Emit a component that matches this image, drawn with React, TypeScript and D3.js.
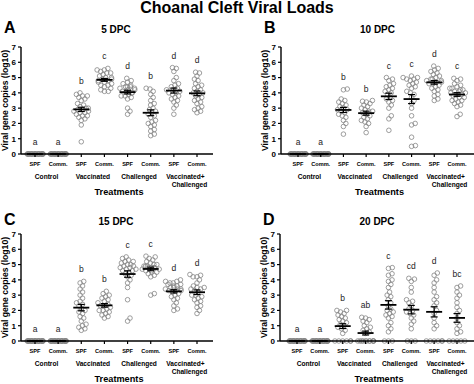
import React from 'react';
import * as d3 from 'd3';

const FONT = '"Liberation Sans", Arial, Helvetica, sans-serif';

// groups: Control SPF, Control Comm., Vaccinated SPF, Vaccinated Comm.,
// Challenged SPF, Challenged Comm., Vacc+Chall SPF, Vacc+Chall Comm.
const treatments = ['Control', 'Vaccinated', 'Challenged', 'Vaccinated+|Challenged'];
const sources = ['SPF', 'Comm.'];
const yTicks = [0, 1, 2, 3, 4, 5, 6, 7];

const zeros = [0, 0, 0, 0, 0, 0, 0, 0, 0, 0, 0, 0, 0, 0, 0, 0, 0, 0, 0, 0, 0, 0, 0, 0, 0, 0];

const dpc5: number[][] = [
  zeros,
  zeros,
  [4.0, 3.9, 3.8, 3.8, 3.7, 3.6, 3.5, 3.3, 3.2, 3.1, 3.0, 3.0, 2.9, 2.9, 2.8, 2.8, 2.7, 2.7, 2.6, 2.5, 2.5, 2.4, 2.3, 2.2, 1.9, 0.8],
  [5.6, 5.5, 5.5, 5.4, 5.3, 5.3, 5.2, 5.1, 5.0, 5.0, 4.9, 4.9, 4.8, 4.8, 4.7, 4.7, 4.6, 4.5, 4.5, 4.4, 4.3, 4.2, 4.1, 4.1],
  [4.95, 4.8, 4.7, 4.6, 4.5, 4.4, 4.4, 4.3, 4.2, 4.2, 4.1, 4.1, 4.0, 4.0, 3.9, 3.8, 3.7, 3.6, 4.4, 4.3, 3.8, 3.0, 2.8, 2.6],
  [4.3, 4.25, 4.1, 3.9, 3.7, 3.5, 3.3, 3.2, 3.0, 2.9, 2.8, 2.7, 2.6, 2.5, 2.4, 2.2, 2.1, 2.0, 1.9, 1.8, 1.6, 1.5, 1.3, 1.2],
  [5.65, 5.6, 5.4, 5.0, 4.8, 4.6, 4.5, 4.4, 4.3, 4.2, 4.2, 4.1, 4.0, 4.0, 3.9, 3.8, 3.7, 3.6, 3.5, 3.4, 3.2, 3.0, 2.6],
  [5.35, 5.3, 5.1, 4.9, 4.8, 4.6, 4.5, 4.4, 4.3, 4.2, 4.1, 4.0, 4.0, 3.9, 3.8, 3.7, 3.6, 3.5, 3.4, 3.3, 3.1, 3.0, 2.9, 2.8, 2.7],
];

const dpc10: number[][] = [
  zeros,
  zeros,
  [4.25, 4.2, 3.6, 3.5, 3.4, 3.3, 3.2, 3.1, 3.0, 2.9, 2.9, 2.8, 2.7, 2.6, 2.5, 2.4, 2.2, 2.0, 1.8, 1.3],
  [3.5, 3.45, 3.4, 3.3, 3.2, 3.1, 3.0, 2.9, 2.8, 2.8, 2.7, 2.6, 2.5, 2.4, 2.3, 2.2, 2.1, 2.0, 1.8, 1.4],
  [5.0, 4.9, 4.8, 4.6, 4.5, 4.4, 4.3, 4.2, 4.1, 4.0, 3.9, 3.7, 3.6, 3.5, 3.4, 3.2, 3.0, 2.5, 2.3, 1.55],
  [5.1, 5.0, 5.0, 4.9, 4.9, 4.8, 4.7, 4.6, 4.5, 4.4, 4.3, 4.1, 4.0, 3.9, 3.7, 3.5, 3.3, 3.0, 2.5, 2.0, 1.9, 1.1, 0.55, 0.5],
  [5.75, 5.6, 5.5, 5.4, 5.3, 5.2, 5.1, 5.0, 4.9, 4.9, 4.8, 4.8, 4.7, 4.7, 4.7, 4.6, 4.6, 4.5, 4.4, 4.3, 4.2, 4.1, 3.9, 3.8, 3.6, 3.5],
  [4.95, 4.9, 4.8, 4.6, 4.5, 4.4, 4.3, 4.3, 4.2, 4.2, 4.1, 4.1, 4.0, 4.0, 3.9, 3.9, 3.8, 3.7, 3.7, 3.6, 3.5, 3.5, 3.4, 3.3, 3.2, 3.1, 2.6, 2.45],
];

const dpc15: number[][] = [
  zeros,
  zeros,
  [3.9, 3.8, 3.6, 3.4, 3.2, 3.0, 2.8, 2.6, 2.5, 2.4, 2.3, 2.1, 2.0, 1.9, 1.8, 1.6, 1.5, 1.3, 1.1, 1.0, 0.9, 0.8, 0.7],
  [3.25, 3.1, 3.0, 2.9, 2.8, 2.7, 2.6, 2.5, 2.4, 2.3, 2.3, 2.2, 2.1, 2.0, 2.0, 1.9, 1.8, 1.7, 1.6, 1.5],
  [5.5, 5.4, 5.3, 5.2, 5.2, 5.1, 5.0, 5.0, 4.9, 4.9, 4.8, 4.8, 4.7, 4.7, 4.6, 4.6, 4.5, 4.4, 4.3, 4.2, 4.0, 3.8, 3.5, 2.7, 1.5, 1.3],
  [5.55, 5.5, 5.4, 5.3, 5.2, 5.1, 5.0, 5.0, 4.9, 4.9, 4.9, 4.8, 4.8, 4.8, 4.8, 4.7, 4.7, 4.6, 4.6, 4.5, 4.5, 4.4, 4.3, 4.2, 3.1, 3.0],
  [4.0, 3.9, 3.9, 3.8, 3.8, 3.7, 3.7, 3.6, 3.6, 3.5, 3.5, 3.4, 3.4, 3.4, 3.3, 3.3, 3.3, 3.2, 3.1, 3.0, 2.9, 2.8, 2.7, 2.5, 2.3, 2.1, 2.0],
  [4.35, 4.3, 4.2, 4.2, 4.0, 3.8, 3.6, 3.5, 3.5, 3.4, 3.4, 3.3, 3.2, 3.0, 3.0, 2.9, 2.8, 2.7, 2.6, 2.5, 2.3, 2.2, 2.0, 1.8],
];

const dpc20: number[][] = [
  zeros,
  zeros,
  [2.0, 2.0, 1.9, 1.8, 1.7, 1.6, 1.5, 1.4, 1.3, 1.2, 1.1, 1.0, 0.9, 0.8, 0.7, 0.5, 0, 0, 0, 0, 0, 0],
  [1.55, 1.5, 1.4, 1.3, 1.2, 1.0, 0.9, 0.8, 0.7, 0.6, 0.5, 0, 0, 0, 0, 0, 0, 0, 0, 0, 0, 0],
  [4.8, 4.75, 4.4, 4.3, 4.0, 3.9, 3.7, 3.5, 3.2, 3.0, 2.9, 2.7, 2.5, 2.3, 2.1, 2.0, 1.9, 1.8, 1.7, 1.6, 1.5, 1.2, 1.0, 0.8, 0.6, 0, 0, 0],
  [4.1, 4.05, 3.9, 3.5, 3.2, 2.7, 2.6, 2.5, 2.3, 2.1, 2.0, 1.9, 1.8, 1.7, 1.5, 1.3, 1.1, 0.8, 0, 0, 0],
  [4.45, 4.3, 4.0, 3.8, 3.5, 3.2, 2.9, 2.7, 2.5, 2.3, 2.0, 1.8, 1.5, 1.2, 1.0, 0.8, 0, 0, 0, 0, 0, 0],
  [3.6, 3.5, 3.2, 3.0, 2.8, 2.5, 2.2, 2.0, 1.8, 1.5, 1.2, 1.0, 0.8, 0.6, 0.5, 0, 0, 0, 0, 0],
];

const letters5 = ['a', 'a', 'b', 'c', 'd', 'b', 'd', 'd'];
const letters10 = ['a', 'a', 'b', 'b', 'c', 'c', 'd', 'c'];
const letters15 = ['a', 'a', 'b', 'b', 'c', 'c', 'd', 'd'];
const letters20 = ['a', 'a', 'b', 'ab', 'c', 'cd', 'd', 'bc'];

const panels = [
  { tag: 'A', title: '5 DPC', values: dpc5, letters: letters5, ax: 21, x0: 35, x1: 197, xEnd: 213, y0: 154, tagY: 33 },
  { tag: 'B', title: '10 DPC', values: dpc10, letters: letters10, ax: 281, x0: 298, x1: 457, xEnd: 474, y0: 154, tagY: 33 },
  { tag: 'C', title: '15 DPC', values: dpc15, letters: letters15, ax: 21, x0: 35, x1: 197, xEnd: 213, y0: 341, tagY: 225 },
  { tag: 'D', title: '20 DPC', values: dpc20, letters: letters20, ax: 280, x0: 297, x1: 457, xEnd: 474, y0: 341, tagY: 225 },
];

// simple beeswarm: horizontal offsets so circles don't stack on each other
function swarm(vals: number[], y: (v: number) => number, r: number, maxW: number) {
  const order = vals.map((_, i) => i).sort((a, b) => vals[a] - vals[b]);
  const placed: { x: number; y: number }[] = [];
  const out: number[] = vals.map(() => 0);
  const d = 1.7 * r;
  order.forEach((i, k) => {
    const py = y(vals[i]);
    const near = placed.filter((p) => Math.abs(p.y - py) < d);
    const cands = [0];
    near.forEach((p) => {
      const dx = Math.sqrt(d * d - (p.y - py) ** 2);
      cands.push(p.x + dx, p.x - dx);
    });
    cands.sort((a, b) => Math.abs(a) - Math.abs(b));
    let x = cands.find((c) => near.every((p) => (p.x - c) ** 2 + (p.y - py) ** 2 >= d * d - 0.01));
    if (x === undefined || Math.abs(x) > maxW) x = ((k * 3.3) % (2 * maxW)) - maxW;
    out[i] = x;
    placed.push({ x, y: py });
  });
  return out;
}

type PanelDef = (typeof panels)[number];

const Panel: React.FC<{ p: PanelDef }> = ({ p }) => {
  const y = d3.scaleLinear().domain([0, 7]).range([p.y0, p.y0 - 107]);
  const x = d3.scalePoint<number>().domain(d3.range(8)).range([p.x0, p.x1]);
  const midX = (p.ax + p.xEnd) / 2 + 2;
  const yMid = (y(0) + y(7)) / 2;

  return (
    <g fontFamily={FONT}>
      <text x={p.ax - 17} y={p.tagY} fontSize={16} fontWeight="bold">{p.tag}</text>
      <text x={(p.x0 + p.x1) / 2} y={p.tagY} fontSize={10} fontWeight="bold" textAnchor="middle">{p.title}</text>
      <text transform={`translate(${p.ax - 13},${yMid}) rotate(-90)`} fontSize={8.6} fontWeight="bold" textAnchor="middle">
        Viral gene copies (log10)
      </text>

      {/* y axis */}
      <line x1={p.ax} x2={p.ax} y1={y(0)} y2={y(7)} stroke="#000" strokeWidth={1.4} />
      {yTicks.map((t) => (
        <g key={t}>
          <line x1={p.ax - 3} x2={p.ax} y1={y(t)} y2={y(t)} stroke="#000" strokeWidth={1.2} />
          <text x={p.ax - 5} y={y(t)} dy="0.35em" fontSize={8} fontWeight="bold" textAnchor="end">{t}</text>
        </g>
      ))}

      {/* data */}
      {p.values.map((vals, gi) => {
        const cx = x(gi) as number;
        const offs = swarm(vals, y, 2.3, 8.5);
        const m = d3.mean(vals) ?? 0;
        const sem = (d3.deviation(vals) ?? 0) / Math.sqrt(vals.length);
        const top = d3.max(vals) ?? 0;
        return (
          <g key={gi}>
            {vals.map((v, i) => (
              <circle key={i} cx={cx + offs[i]} cy={y(v)} r={2.3} fill="none" stroke="#858585" strokeWidth={0.8} />
            ))}
            <line x1={cx - 8} x2={cx + 8} y1={y(m)} y2={y(m)} stroke="#000" strokeWidth={1.8} />
            <line x1={cx} x2={cx} y1={y(m - sem)} y2={y(m + sem)} stroke="#000" strokeWidth={1.2} />
            <line x1={cx - 3.5} x2={cx + 3.5} y1={y(m + sem)} y2={y(m + sem)} stroke="#000" strokeWidth={1.2} />
            <line x1={cx - 3.5} x2={cx + 3.5} y1={y(m - sem)} y2={y(m - sem)} stroke="#000" strokeWidth={1.2} />
            <text x={cx} y={y(top + 0.78)} dy="0.35em" fontSize={8.5} textAnchor="middle" fill="#222">{p.letters[gi]}</text>
          </g>
        );
      })}

      {/* x axis */}
      <line x1={p.ax} x2={p.xEnd} y1={y(0)} y2={y(0)} stroke="#000" strokeWidth={1.4} />
      {d3.range(8).map((gi) => (
        <g key={gi}>
          <line x1={x(gi)} x2={x(gi)} y1={y(0)} y2={y(0) + 3} stroke="#000" strokeWidth={1.2} />
          <text x={x(gi)} y={y(0) + 11.5} fontSize={5.6} fontWeight="bold" textAnchor="middle">{sources[gi % 2]}</text>
        </g>
      ))}
      {treatments.map((t, ti) => {
        const cx = ((x(ti * 2) as number) + (x(ti * 2 + 1) as number)) / 2;
        return (
          <text key={t} x={cx} y={y(0) + 24.5} fontSize={6.6} fontWeight="bold" textAnchor="middle">
            {t.split('|').map((line, li) => (
              <tspan key={li} x={cx + (li ? 4 : 0)} dy={li ? 8 : 0}>{line}</tspan>
            ))}
          </text>
        );
      })}
      <text x={midX} y={y(0) + 40.5} fontSize={9.2} fontWeight="bold" textAnchor="middle">Treatments</text>
    </g>
  );
};

export default function App() {
  return (
    <svg width={474} height={384} style={{ position: 'absolute', left: 0, top: 0, background: '#fff' }}>
      <text x={237} y={13} fontFamily={FONT} fontSize={16} fontWeight="bold" textAnchor="middle">
        Choanal Cleft Viral Loads
      </text>
      {panels.map((p) => (
        <Panel key={p.tag} p={p} />
      ))}
    </svg>
  );
}
